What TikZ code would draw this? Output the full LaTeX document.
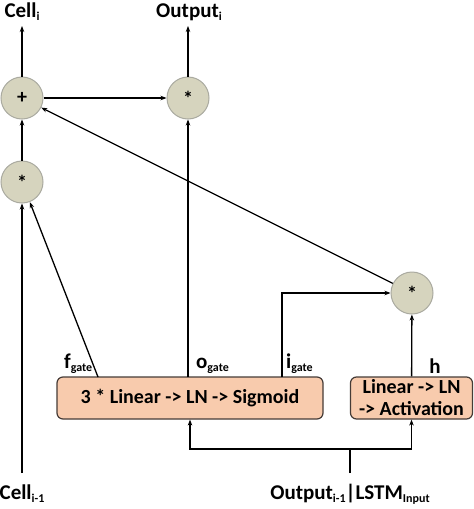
\documentclass[tikz,border=0pt]{standalone}
\usepackage{fontspec}
\setmainfont{Carlito}
\usetikzlibrary{arrows.meta}
\definecolor{opfill}{RGB}{214,212,190}
\definecolor{opline}{RGB}{170,170,160}
\definecolor{boxfill}{RGB}{248,203,173}
\definecolor{boxline}{RGB}{70,60,55}
\newcommand\lsub[1]{\raisebox{-0.3ex}{\fontsize{12}{12}\selectfont #1}}
\tikzset{
  op/.style={circle, minimum size=42pt, inner sep=0pt, fill=opfill, draw=opline, line width=1pt, font=\bfseries\fontsize{20}{20}\selectfont},
  blk/.style={rectangle, rounded corners=6pt, fill=boxfill, draw=boxline, line width=1.2pt, inner sep=1pt, align=center, font=\bfseries\fontsize{20}{22}\selectfont},
  lbl/.style={inner sep=0pt, font=\bfseries\fontsize{21}{21}\selectfont},
  arr/.style={-{Stealth[length=6pt,width=4.5pt]}, line width=1.3pt},
  ln/.style={line width=1.3pt}
}
\begin{document}
\begin{tikzpicture}[x=1pt,y=-1pt]
\useasboundingbox[fill=white] (0,0) rectangle (474,509);
% operation circles
\node[op] (plus) at (22,98) {+};
\node[op] (outm) at (188,98) {*};
\node[op] (fm) at (22,182) {*};
\node[op] (hm) at (412,293) {*};
% blocks
\node[blk, minimum width=266pt, minimum height=42pt] (gates) at (190,398) {3 * Linear -> LN -> Sigmoid};
\node[blk, minimum width=122pt, minimum height=42pt] (hbox) at (411.5,398) {Linear -> LN\\[0pt]-> Activation};
% labels
\node[lbl] (celli) at (22,12) {Cell\lsub{i}};
\node[lbl] (outi) at (189,12) {Output\lsub{i}};
\node[lbl] (cellp) at (22,494) {Cell\lsub{i-1}};
\node[lbl] (inp) at (350,494) {Output\lsub{i-1}|LSTM\lsub{Input}};
\node[lbl, anchor=south west] (fgl) at (64,374) {f\lsub{gate}};
\node[lbl, anchor=south west] (ogl) at (196,374) {o\lsub{gate}};
\node[lbl, anchor=south west] (igl) at (286,374) {i\lsub{gate}};
\node[lbl, anchor=south] (hl) at (435,374) {h};
% anchor points on the gate block
\coordinate (fg) at (98,377);
\coordinate (og) at (188,377);
\coordinate (ig) at (282,377);
\coordinate (split) at (350,449);
\coordinate (ctop) at (22,26);
\coordinate (otop) at (188,26);
\coordinate (cbot) at (22,473);
\coordinate (ibot) at (350,473);
% connectors
\draw[arr] (plus) -- (ctop);
\draw[arr] (outm) -- (otop);
\draw[arr] (plus) -- (outm);
\draw[arr] (fm) -- (plus);
\draw[arr] (cbot) -- (fm);
\draw[arr] (fg) -- (fm);
\draw[arr] (og) -- (outm);
\draw[arr] (ig) |- (hm);
\draw[arr] (hm) -- (plus);
\draw[arr] (hbox) -- (hm);
\draw[ln] (ibot) -- (split);
\draw[arr] (split) -| (gates.south);
\draw[arr] (split) -| (hbox.south);
\end{tikzpicture}
\end{document}
